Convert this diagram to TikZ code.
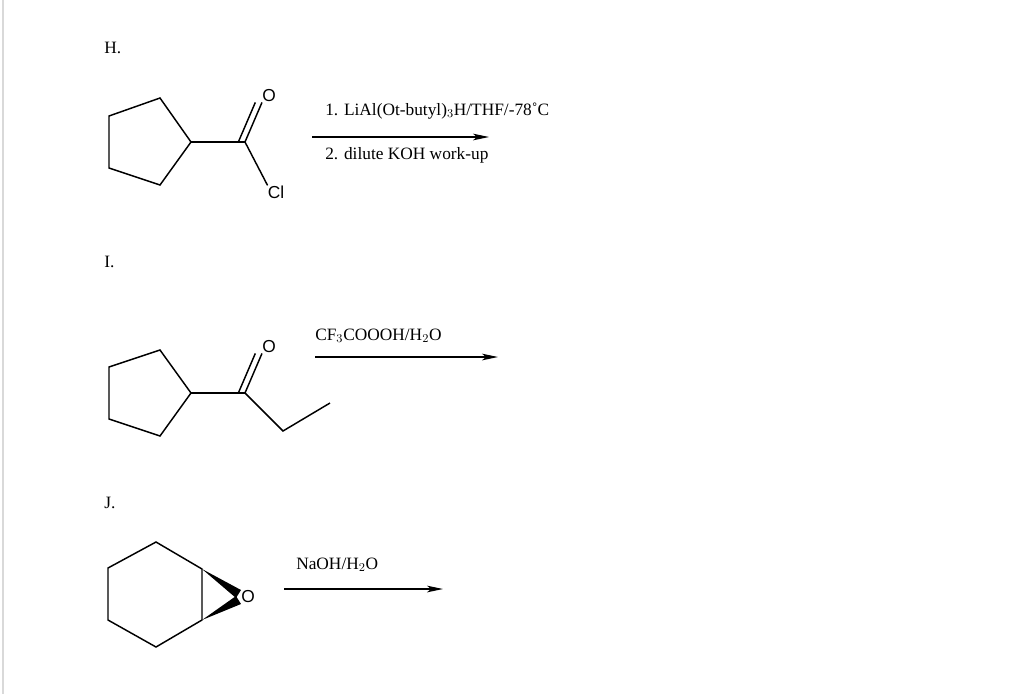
\documentclass[tikz,border=0pt]{standalone}
\usepackage{fontspec}
\setmainfont{Liberation Serif}
\newfontfamily\atomfont{Liberation Sans}
\usetikzlibrary{arrows.meta}
\tikzset{
  bond/.style={line width=1.1pt},
  rxn/.style={line width=0.9pt,-{Stealth[length=12pt,width=5pt,inset=3pt]}},
  atom/.style={inner sep=0pt,font=\atomfont\fontsize{13}{14}\selectfont},
  lbl/.style={inner sep=0pt,anchor=west,font=\fontsize{13}{15}\selectfont}
}
\begin{document}
\begin{tikzpicture}[x=0.75pt,y=-0.75pt]
                \useasboundingbox (0,0) rectangle (1024,694);
                \draw[gray!30,line width=2pt] (3,0) -- (3,694);
                % H.
                \node[lbl] (labH) at (104,48) {H.};
                \draw[bond] (191,142) -- (160,98) -- (109,116) -- (109,168) -- (160,185) -- cycle;
                \draw[bond] (191,142) -- (245,142);
                \node[atom] (oH) at (269,96) {O};
                \node[atom] (clH) at (276,192) {Cl};
                \coordinate (cH) at (245,142);
                \draw[bond] (cH) -- (oH.south west);
                \draw[bond] ([xshift=-5pt]cH) -- ([xshift=-5pt]oH.south west);
                \draw[bond] (cH) -- (clH.north west);
                \coordinate (aH1) at (312,137);
                \coordinate (aH2) at (489,137);
                \draw[rxn] (aH1) -- (aH2);
                \node[lbl] (tH1) at (325,111) {1. LiAl(Ot-butyl)$_3$H/THF/-78˚C};
                \node[lbl] (tH2) at (325,155) {2. dilute KOH work-up};
                % I.
                \node[lbl] (labI) at (104,262) {I.};
                \draw[bond] (191,393) -- (160,350) -- (109,367) -- (109,419) -- (160,436) -- cycle;
                \draw[bond] (191,393) -- (245,393);
                \node[atom] (oI) at (269,347) {O};
                \coordinate (cI) at (245,393);
                \draw[bond] (cI) -- (oI.south west);
                \draw[bond] ([xshift=-5pt]cI) -- ([xshift=-5pt]oI.south west);
                \draw[bond] (cI) -- (283,431) -- (330,403);
                \coordinate (aI1) at (315,357);
                \coordinate (aI2) at (498,357);
                \draw[rxn] (aI1) -- (aI2);
                \node[lbl] (tI) at (315,336) {CF$_3$COOOH/H$_2$O};
                % J.
                \node[lbl] (labJ) at (104,503) {J.};
                \draw[bond] (202,569) -- (156,542) -- (108,568) -- (108,620) -- (156,647) -- (202,620) -- cycle;
                \node[atom] (oJ) at (248,597) {O};
                \fill (202,569) -- (241,590) -- (236,598) -- cycle;
                \fill (202,620) -- (241,604) -- (236,596) -- cycle;
                \coordinate (aJ1) at (284,589);
                \coordinate (aJ2) at (443,589);
                \draw[rxn] (aJ1) -- (aJ2);
                \node[lbl] (tJ) at (296,565) {NaOH/H$_2$O};
            \end{tikzpicture}
\end{document}
